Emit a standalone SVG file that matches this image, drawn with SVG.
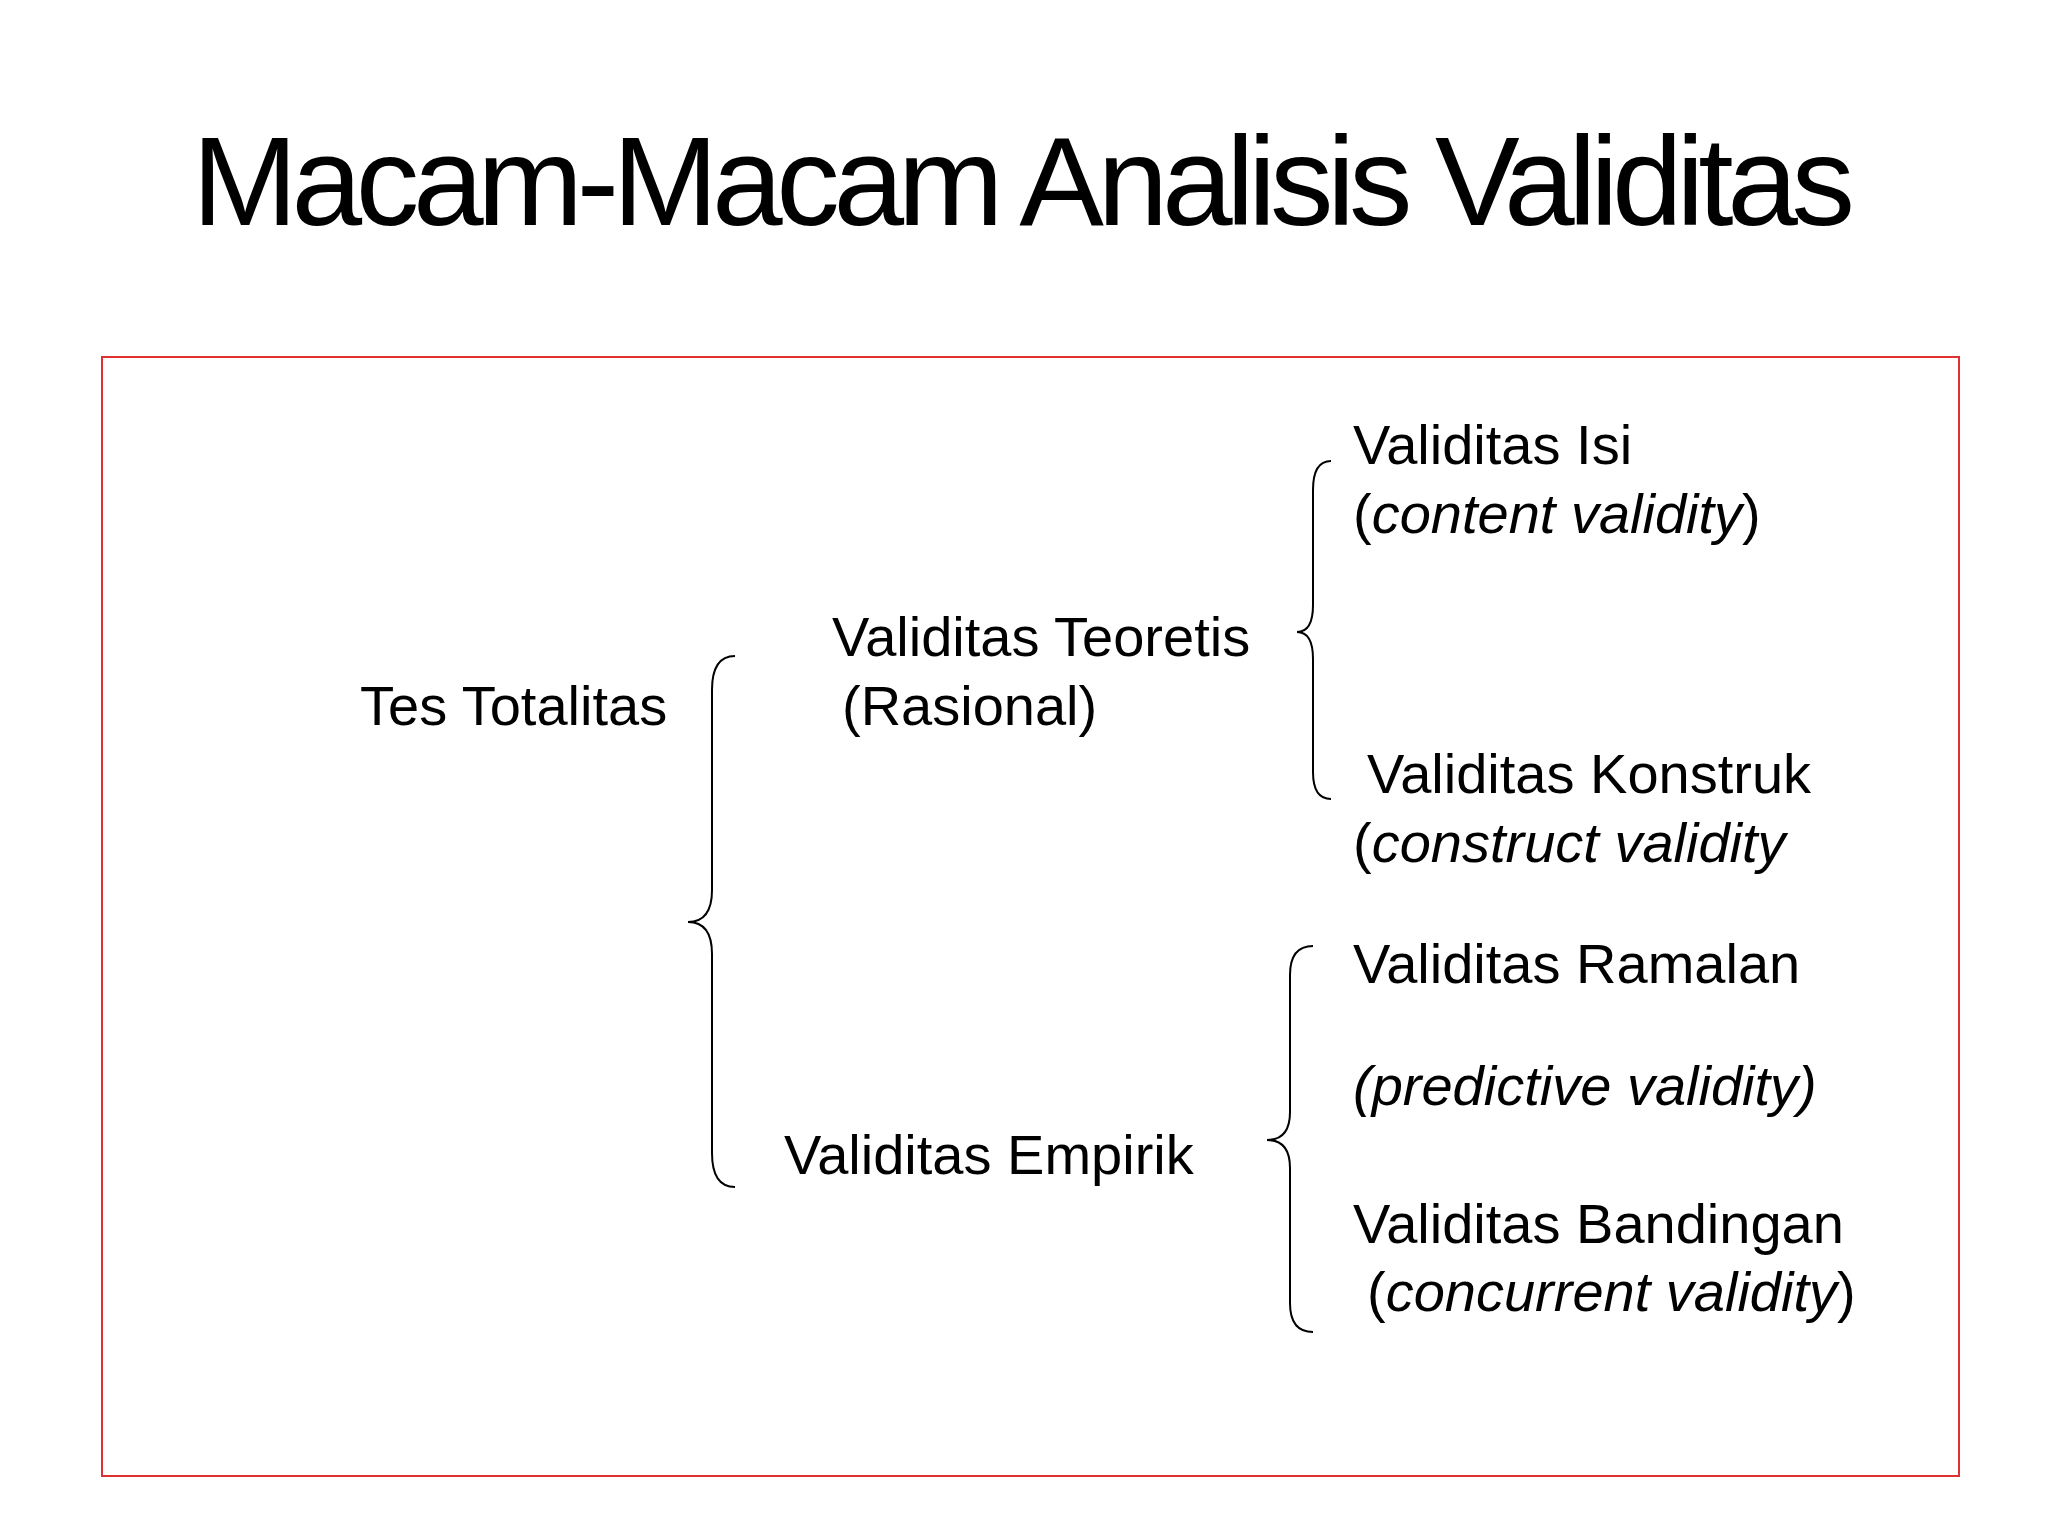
<svg xmlns="http://www.w3.org/2000/svg" width="2048" height="1536" viewBox="0 0 2048 1536">
<style>
text{font-family:"Liberation Sans",Arial,sans-serif;fill:#000}
.t{font-size:56px}
.b{fill:none;stroke:#000;stroke-width:2}
</style>
<rect width="2048" height="1536" fill="#fff"/>
<text x="192" y="225" font-size="127" textLength="1663">Macam-Macam Analisis Validitas</text>
<rect x="102" y="357" width="1857" height="1119" fill="none" stroke="#e03030" stroke-width="2"/>
<g id="tes"><text class="t" x="360" y="725">Tes Totalitas</text></g>
<g id="teoretis"><text class="t" x="832" y="656">Validitas Teoretis</text><text class="t" x="842" y="725">(Rasional)</text></g>
<g id="isi"><text class="t" x="1353" y="464">Validitas Isi</text><text class="t" x="1353" y="533">(<tspan font-style="italic">content validity</tspan>)</text></g>
<g id="konstruk"><text class="t" x="1367" y="793">Validitas Konstruk</text><text class="t" x="1353" y="862">(<tspan font-style="italic">construct validity</tspan></text></g>
<g id="ramalan"><text class="t" x="1353" y="983">Validitas Ramalan</text><text class="t" x="1353" y="1105" font-style="italic">(predictive validity)</text></g>
<g id="empirik"><text class="t" x="784" y="1174">Validitas Empirik</text></g>
<g id="bandingan"><text class="t" x="1353" y="1243">Validitas Bandingan</text><text class="t" x="1367" y="1311">(<tspan font-style="italic">concurrent validity</tspan>)</text></g>
<g id="connectors">
<path class="b" d="M735,656 Q712,656 712,690 L712,890 Q712,922 688,922 Q712,922 712,954 L712,1153 Q712,1187 735,1187"/>
<path class="b" d="M1331,461 Q1313,461 1313,490 L1313,605 Q1313,632 1297,632 Q1313,632 1313,659 L1313,772 Q1313,799 1331,799"/>
<path class="b" d="M1313,946 Q1290,946 1290,975 L1290,1112 Q1290,1140 1267,1140 Q1290,1140 1290,1168 L1290,1303 Q1290,1332 1313,1332"/>
</g>
</svg>
